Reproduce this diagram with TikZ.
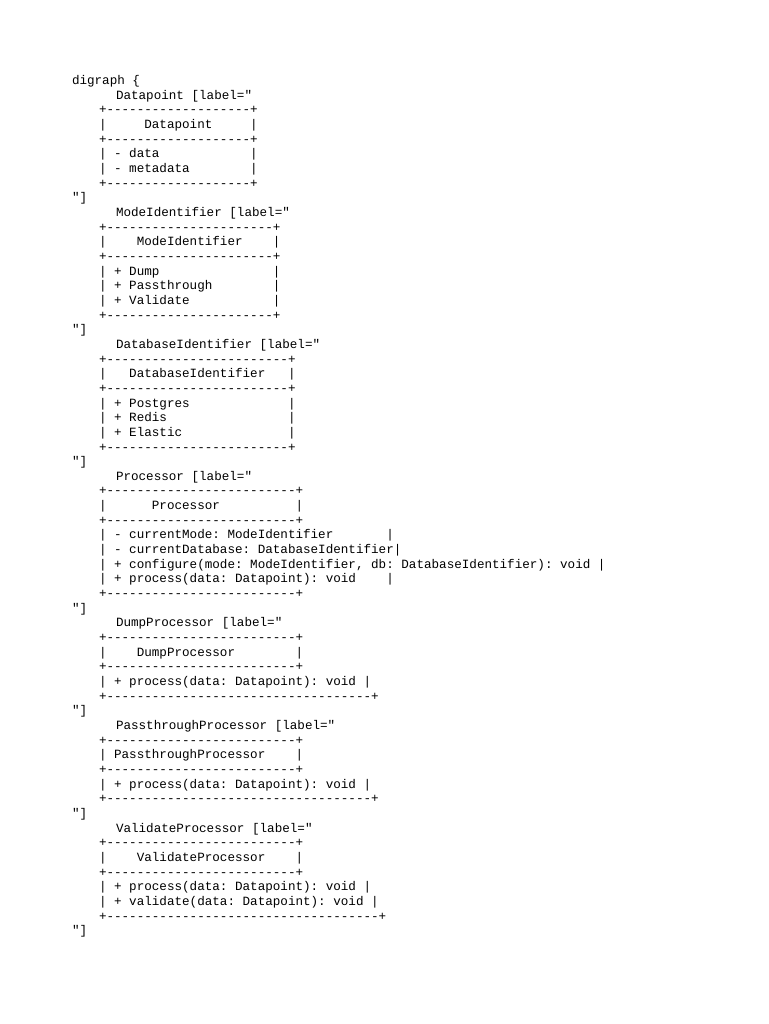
\documentclass[tikz,border=0pt]{standalone}
\usepackage{fontspec}
\newfontfamily\mono{Liberation Mono}
\begin{document}
\begin{tikzpicture}[x=1pt,y=-1pt,
  ln/.style={anchor=base west,inner sep=0pt,outer sep=0pt,font=\mono\fontsize{12.6}{14}\selectfont}]
\useasboundingbox (0,0) rectangle (768,1024);
\newcommand\Ln[3]{\node[ln] (l#1) at (#2,{84.5+14.66*#1}) {#3};}
\Ln{0}{72}{digraph \{}
\Ln{1}{116}{Datapoint [label="}
\Ln{2}{99}{+-------------------+}
\Ln{3}{99}{|~~~~~Datapoint~~~~~|}
\Ln{4}{99}{+-------------------+}
\Ln{5}{99}{|~-~data~~~~~~~~~~~~|}
\Ln{6}{99}{|~-~metadata~~~~~~~~|}
\Ln{7}{99}{+-------------------+}
\Ln{8}{72}{"]}
\Ln{9}{116}{ModeIdentifier [label="}
\Ln{10}{99}{+----------------------+}
\Ln{11}{99}{|~~~~ModeIdentifier~~~~|}
\Ln{12}{99}{+----------------------+}
\Ln{13}{99}{|~+~Dump~~~~~~~~~~~~~~~|}
\Ln{14}{99}{|~+~Passthrough~~~~~~~~|}
\Ln{15}{99}{|~+~Validate~~~~~~~~~~~|}
\Ln{16}{99}{+----------------------+}
\Ln{17}{72}{"]}
\Ln{18}{116}{DatabaseIdentifier [label="}
\Ln{19}{99}{+------------------------+}
\Ln{20}{99}{|~~~DatabaseIdentifier~~~|}
\Ln{21}{99}{+------------------------+}
\Ln{22}{99}{|~+~Postgres~~~~~~~~~~~~~|}
\Ln{23}{99}{|~+~Redis~~~~~~~~~~~~~~~~|}
\Ln{24}{99}{|~+~Elastic~~~~~~~~~~~~~~|}
\Ln{25}{99}{+------------------------+}
\Ln{26}{72}{"]}
\Ln{27}{116}{Processor [label="}
\Ln{28}{99}{+-------------------------+}
\Ln{29}{99}{|~~~~~~Processor~~~~~~~~~~|}
\Ln{30}{99}{+-------------------------+}
\Ln{31}{99}{|~-~currentMode:~ModeIdentifier~~~~~~~|}
\Ln{32}{99}{|~-~currentDatabase:~DatabaseIdentifier|}
\Ln{33}{99}{|~+~configure(mode:~ModeIdentifier,~db:~DatabaseIdentifier):~void~|}
\Ln{34}{99}{|~+~process(data:~Datapoint):~void~~~~|}
\Ln{35}{99}{+-------------------------+}
\Ln{36}{72}{"]}
\Ln{37}{116}{DumpProcessor [label="}
\Ln{38}{99}{+-------------------------+}
\Ln{39}{99}{|~~~~DumpProcessor~~~~~~~~|}
\Ln{40}{99}{+-------------------------+}
\Ln{41}{99}{|~+~process(data:~Datapoint):~void~|}
\Ln{42}{99}{+-----------------------------------+}
\Ln{43}{72}{"]}
\Ln{44}{116}{PassthroughProcessor [label="}
\Ln{45}{99}{+-------------------------+}
\Ln{46}{99}{|~PassthroughProcessor~~~~|}
\Ln{47}{99}{+-------------------------+}
\Ln{48}{99}{|~+~process(data:~Datapoint):~void~|}
\Ln{49}{99}{+-----------------------------------+}
\Ln{50}{72}{"]}
\Ln{51}{116}{ValidateProcessor [label="}
\Ln{52}{99}{+-------------------------+}
\Ln{53}{99}{|~~~~ValidateProcessor~~~~|}
\Ln{54}{99}{+-------------------------+}
\Ln{55}{99}{|~+~process(data:~Datapoint):~void~|}
\Ln{56}{99}{|~+~validate(data:~Datapoint):~void~|}
\Ln{57}{99}{+------------------------------------+}
\Ln{58}{72}{"]}
\end{tikzpicture}
\end{document}
